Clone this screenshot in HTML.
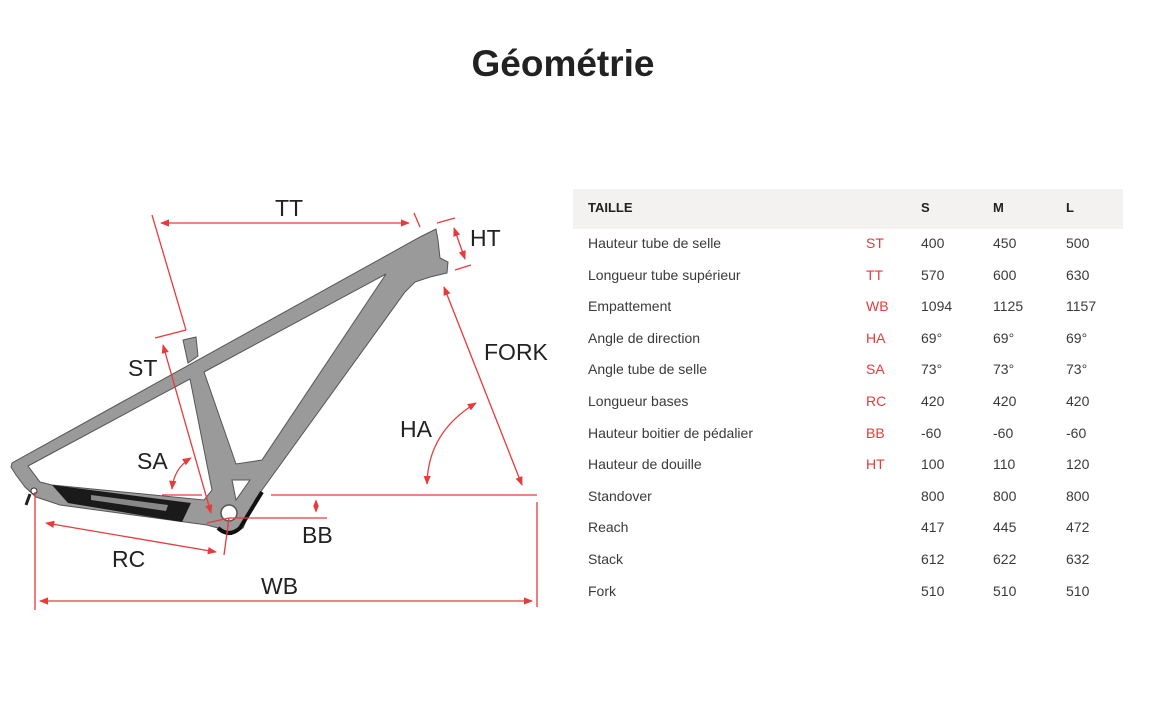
<!DOCTYPE html>
<html><head><meta charset="utf-8"><style>
body{margin:0;width:1150px;height:720px;background:#fff;font-family:"Liberation Sans",sans-serif;position:relative;overflow:hidden}
h1{position:absolute;left:0;width:1126px;top:40px;margin:0;text-align:center;font-size:37px;font-weight:bold;color:#222;line-height:48px}
.t{position:absolute;font-size:14px;color:#3a3a3a;white-space:nowrap}
.hd{position:absolute;left:573px;top:189px;width:550px;height:40px;background:#f3f2f0}
.b{font-weight:bold;font-size:13px;color:#222}
.r{color:#e8393b}
</style></head><body>
<h1>Géométrie</h1>
<svg width="560" height="620" style="position:absolute;left:0;top:0" viewBox="0 0 560 620">
<defs><marker id="a" viewBox="0 0 10 10" refX="9" refY="5" markerWidth="7" markerHeight="7" orient="auto-start-reverse"><path d="M0,1 L10,5 L0,9 z" fill="#e8393b"/></marker></defs>
<g fill="#9a9a9a" stroke="#555" stroke-width="1">
<polygon points="183,340 196,337 198,356 188,363"/>
<polygon points="436,229 438,240 440,258 448,262 447,273 430,277 415,282 405,292 262,490 255,500 243,528 229,533 218,528 207,525 60,505 36,497 25,487 16,475 11,467 12,463 420,237"/>
</g>
<g fill="#fff" stroke="#555" stroke-width="1">
<polygon points="204,372 386,274 262,460 236,464"/>
<polygon points="28,466 190,379 212,490 204,500 52,485 40,482"/>
<polygon points="232,480 250,480 236,500"/>
</g>
<polygon points="52,485 191,503 182,522 68,503" fill="#1a1a1a"/>
<polygon points="91,495 168,505 166,511 91,500" fill="#888"/>
<path d="M262,492 L240,528 Q229,538 218,528" fill="none" stroke="#111" stroke-width="4"/>
<circle cx="229" cy="513" r="8" fill="#fff" stroke="#555" stroke-width="1.5"/>
<circle cx="34" cy="491" r="3" fill="#fff" stroke="#333"/>
<path d="M30,494 L26,505" stroke="#222" stroke-width="3"/>
<g stroke="#e8393b" stroke-width="1.3" fill="none">
<line x1="152" y1="215" x2="186" y2="330"/><line x1="186" y1="330" x2="155" y2="338"/>
<line x1="414" y1="213" x2="420" y2="227"/>
<line x1="161" y1="223" x2="409" y2="223" marker-start="url(#a)" marker-end="url(#a)"/>
<line x1="437" y1="223" x2="455" y2="218"/><line x1="455" y1="270" x2="471" y2="265"/>
<line x1="454" y1="228" x2="465" y2="259" marker-start="url(#a)" marker-end="url(#a)"/>
<line x1="444" y1="287" x2="522" y2="485" marker-start="url(#a)" marker-end="url(#a)"/>
<path d="M427,484 Q428,432 476,403" marker-start="url(#a)" marker-end="url(#a)"/>
<line x1="271" y1="495" x2="537" y2="495"/>
<line x1="537" y1="502" x2="537" y2="607"/><line x1="35" y1="492" x2="35" y2="610"/>
<line x1="40" y1="601" x2="532" y2="601" marker-start="url(#a)" marker-end="url(#a)"/>
<line x1="229" y1="518" x2="327" y2="518"/>
<line x1="316" y1="500" x2="316" y2="512" marker-start="url(#a)" marker-end="url(#a)" stroke-width="1"/>
<line x1="207" y1="523" x2="229" y2="518"/><line x1="229" y1="518" x2="224" y2="555"/>
<line x1="46" y1="523" x2="216" y2="552" marker-start="url(#a)" marker-end="url(#a)"/>
<line x1="163" y1="345" x2="211" y2="513" marker-start="url(#a)" marker-end="url(#a)"/>
<line x1="162" y1="495" x2="202" y2="495"/>
<path d="M172,489 Q174,468 191,458" marker-start="url(#a)" marker-end="url(#a)"/>
</g>
<g font-family="Liberation Sans,sans-serif" font-size="23" fill="#222">
<text x="275" y="216">TT</text><text x="470" y="246">HT</text><text x="484" y="360">FORK</text>
<text x="128" y="376">ST</text><text x="400" y="437">HA</text><text x="137" y="469">SA</text>
<text x="302" y="543">BB</text><text x="112" y="567">RC</text><text x="261" y="594">WB</text>
</g>
</svg>
<div class="hd"></div>
<div class="t b" style="left:588px;top:200px">TAILLE</div>
<div class="t b" style="left:921px;top:200px">S</div>
<div class="t b" style="left:993px;top:200px">M</div>
<div class="t b" style="left:1066px;top:200px">L</div>
<div class="t" style="left:588px;top:235px">Hauteur tube de selle</div><div class="t r" style="left:866px;top:235px">ST</div><div class="t" style="left:921px;top:235px">400</div><div class="t" style="left:993px;top:235px">450</div><div class="t" style="left:1066px;top:235px">500</div>
<div class="t" style="left:588px;top:267px">Longueur tube supérieur</div><div class="t r" style="left:866px;top:267px">TT</div><div class="t" style="left:921px;top:267px">570</div><div class="t" style="left:993px;top:267px">600</div><div class="t" style="left:1066px;top:267px">630</div>
<div class="t" style="left:588px;top:298px">Empattement</div><div class="t r" style="left:866px;top:298px">WB</div><div class="t" style="left:921px;top:298px">1094</div><div class="t" style="left:993px;top:298px">1125</div><div class="t" style="left:1066px;top:298px">1157</div>
<div class="t" style="left:588px;top:330px">Angle de direction</div><div class="t r" style="left:866px;top:330px">HA</div><div class="t" style="left:921px;top:330px">69°</div><div class="t" style="left:993px;top:330px">69°</div><div class="t" style="left:1066px;top:330px">69°</div>
<div class="t" style="left:588px;top:361px">Angle tube de selle</div><div class="t r" style="left:866px;top:361px">SA</div><div class="t" style="left:921px;top:361px">73°</div><div class="t" style="left:993px;top:361px">73°</div><div class="t" style="left:1066px;top:361px">73°</div>
<div class="t" style="left:588px;top:393px">Longueur bases</div><div class="t r" style="left:866px;top:393px">RC</div><div class="t" style="left:921px;top:393px">420</div><div class="t" style="left:993px;top:393px">420</div><div class="t" style="left:1066px;top:393px">420</div>
<div class="t" style="left:588px;top:425px">Hauteur boitier de pédalier</div><div class="t r" style="left:866px;top:425px">BB</div><div class="t" style="left:921px;top:425px">-60</div><div class="t" style="left:993px;top:425px">-60</div><div class="t" style="left:1066px;top:425px">-60</div>
<div class="t" style="left:588px;top:456px">Hauteur de douille</div><div class="t r" style="left:866px;top:456px">HT</div><div class="t" style="left:921px;top:456px">100</div><div class="t" style="left:993px;top:456px">110</div><div class="t" style="left:1066px;top:456px">120</div>
<div class="t" style="left:588px;top:488px">Standover</div><div class="t" style="left:921px;top:488px">800</div><div class="t" style="left:993px;top:488px">800</div><div class="t" style="left:1066px;top:488px">800</div>
<div class="t" style="left:588px;top:519px">Reach</div><div class="t" style="left:921px;top:519px">417</div><div class="t" style="left:993px;top:519px">445</div><div class="t" style="left:1066px;top:519px">472</div>
<div class="t" style="left:588px;top:551px">Stack</div><div class="t" style="left:921px;top:551px">612</div><div class="t" style="left:993px;top:551px">622</div><div class="t" style="left:1066px;top:551px">632</div>
<div class="t" style="left:588px;top:583px">Fork</div><div class="t" style="left:921px;top:583px">510</div><div class="t" style="left:993px;top:583px">510</div><div class="t" style="left:1066px;top:583px">510</div>
</body></html>
